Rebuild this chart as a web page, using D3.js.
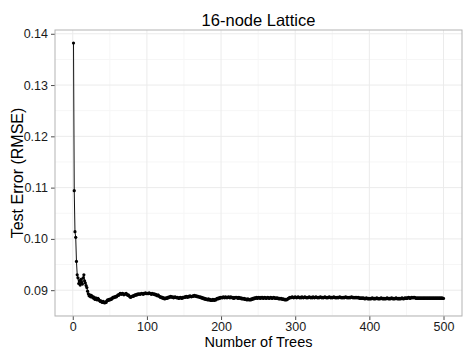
<!DOCTYPE html>
<html>
<head>
<meta charset="utf-8">
<script src="https://cdn.jsdelivr.net/npm/d3@7"></script>
<style>
  body { margin: 0; background: #fff; }
  text { font-family: "Liberation Sans", Arial, sans-serif; }
</style>
</head>
<body>
<svg id="chart" width="474" height="355"></svg>
<script>
// Test error (RMSE), one value per tree count (1..500)
const errorsFirst50 = [
  0.1382, 0.1094, 0.1014, 0.1003, 0.0956, 0.0930, 0.0924, 0.0913, 0.0918, 0.0910,
  0.0921, 0.0915, 0.0912, 0.0924, 0.0930, 0.0918, 0.0914, 0.0909, 0.0905, 0.0898,
  0.0893, 0.0889, 0.0891, 0.0887, 0.0890, 0.0888, 0.0885, 0.0887, 0.0884, 0.0882,
  0.0885, 0.0883, 0.0881, 0.0884, 0.0882, 0.0880, 0.0878, 0.0879, 0.0877, 0.0876,
  0.0878, 0.0876, 0.0875, 0.0877, 0.0876, 0.0879, 0.0881, 0.0880, 0.0882, 0.0881
];
const errors51to200 = [
  0.0883, 0.0882, 0.0884, 0.0886, 0.0885, 0.0887, 0.0886, 0.0888, 0.0887, 0.0889,
  0.0891, 0.0890, 0.0892, 0.0894, 0.0893, 0.0892, 0.0894, 0.0893, 0.0891, 0.0892,
  0.0893, 0.0894, 0.0892, 0.0890, 0.0891, 0.0889, 0.0887, 0.0886, 0.0887, 0.0888,
  0.0889, 0.0888, 0.0890, 0.0891, 0.0890, 0.0892, 0.0891, 0.0893, 0.0892, 0.0893,
  0.0892, 0.0893, 0.0894, 0.0893, 0.0892, 0.0894, 0.0893, 0.0895, 0.0894, 0.0893,
  0.0894, 0.0893, 0.0895, 0.0894, 0.0893, 0.0892, 0.0894, 0.0893, 0.0892, 0.0893,
  0.0891, 0.0892, 0.0890, 0.0889, 0.0891, 0.0889, 0.0888, 0.0886, 0.0887, 0.0885,
  0.0886, 0.0884, 0.0885, 0.0883, 0.0884, 0.0885, 0.0884, 0.0886, 0.0885, 0.0887,
  0.0886, 0.0888, 0.0887, 0.0886, 0.0887, 0.0885, 0.0886, 0.0887, 0.0886, 0.0885,
  0.0886, 0.0885, 0.0884, 0.0885, 0.0886, 0.0885, 0.0884, 0.0886, 0.0885, 0.0886,
  0.0887, 0.0886, 0.0888, 0.0887, 0.0886, 0.0888, 0.0887, 0.0889, 0.0888, 0.0887,
  0.0888, 0.0889, 0.0888, 0.0890, 0.0889, 0.0888, 0.0889, 0.0887, 0.0888, 0.0887,
  0.0886, 0.0887, 0.0885, 0.0886, 0.0884, 0.0885, 0.0883, 0.0884, 0.0882, 0.0883,
  0.0882, 0.0881, 0.0883, 0.0881, 0.0882, 0.0880, 0.0881, 0.0880, 0.0882, 0.0881,
  0.0880, 0.0882, 0.0881, 0.0883, 0.0884, 0.0883, 0.0885, 0.0884, 0.0886, 0.0885
];
const errors201to350 = [
  0.0886, 0.0885, 0.0887, 0.0886, 0.0885, 0.0887, 0.0886, 0.0885, 0.0886, 0.0887,
  0.0886, 0.0885, 0.0887, 0.0886, 0.0885, 0.0886, 0.0884, 0.0885, 0.0886, 0.0885,
  0.0886, 0.0885, 0.0884, 0.0886, 0.0885, 0.0884, 0.0885, 0.0883, 0.0884, 0.0883,
  0.0884, 0.0882, 0.0883, 0.0882, 0.0881, 0.0883, 0.0882, 0.0881, 0.0882, 0.0881,
  0.0883, 0.0882, 0.0884, 0.0883, 0.0885, 0.0884, 0.0885, 0.0886, 0.0884, 0.0885,
  0.0886, 0.0885, 0.0884, 0.0886, 0.0885, 0.0886, 0.0884, 0.0885, 0.0886, 0.0885,
  0.0884, 0.0885, 0.0886, 0.0885, 0.0884, 0.0885, 0.0886, 0.0885, 0.0884, 0.0885,
  0.0886, 0.0885, 0.0884, 0.0885, 0.0884, 0.0885, 0.0884, 0.0883, 0.0884, 0.0883,
  0.0884, 0.0883, 0.0882, 0.0883, 0.0882, 0.0881, 0.0882, 0.0881, 0.0882, 0.0883,
  0.0884, 0.0885, 0.0886, 0.0885, 0.0886, 0.0887, 0.0886, 0.0885, 0.0886, 0.0887,
  0.0886, 0.0885, 0.0886, 0.0887, 0.0886, 0.0885, 0.0886, 0.0885, 0.0887, 0.0886,
  0.0885, 0.0886, 0.0887, 0.0886, 0.0885, 0.0886, 0.0885, 0.0886, 0.0887, 0.0886,
  0.0885, 0.0886, 0.0885, 0.0887, 0.0886, 0.0885, 0.0886, 0.0887, 0.0886, 0.0885,
  0.0886, 0.0885, 0.0886, 0.0887, 0.0886, 0.0885, 0.0886, 0.0885, 0.0886, 0.0887,
  0.0886, 0.0885, 0.0886, 0.0885, 0.0886, 0.0887, 0.0886, 0.0885, 0.0886, 0.0885
];
const errors351to500 = [
  0.0886, 0.0887, 0.0886, 0.0885, 0.0886, 0.0885, 0.0886, 0.0885, 0.0886, 0.0887,
  0.0886, 0.0885, 0.0886, 0.0885, 0.0886, 0.0885, 0.0886, 0.0887, 0.0886, 0.0885,
  0.0886, 0.0885, 0.0886, 0.0885, 0.0886, 0.0887, 0.0886, 0.0885, 0.0886, 0.0885,
  0.0886, 0.0885, 0.0886, 0.0885, 0.0886, 0.0885, 0.0884, 0.0885, 0.0884, 0.0885,
  0.0884, 0.0885, 0.0884, 0.0883, 0.0884, 0.0885, 0.0884, 0.0883, 0.0884, 0.0883,
  0.0884, 0.0883, 0.0884, 0.0885, 0.0884, 0.0883, 0.0884, 0.0883, 0.0884, 0.0885,
  0.0884, 0.0883, 0.0884, 0.0883, 0.0884, 0.0885, 0.0884, 0.0883, 0.0884, 0.0883,
  0.0884, 0.0883, 0.0884, 0.0885, 0.0884, 0.0883, 0.0884, 0.0883, 0.0884, 0.0885,
  0.0884, 0.0883, 0.0884, 0.0883, 0.0884, 0.0885, 0.0884, 0.0883, 0.0884, 0.0883,
  0.0884, 0.0883, 0.0884, 0.0885, 0.0884, 0.0883, 0.0884, 0.0885, 0.0884, 0.0885,
  0.0884, 0.0885, 0.0886, 0.0885, 0.0884, 0.0885, 0.0886, 0.0885, 0.0886, 0.0885,
  0.0886, 0.0885, 0.0884, 0.0885, 0.0884, 0.0885, 0.0884, 0.0885, 0.0884, 0.0885,
  0.0884, 0.0885, 0.0884, 0.0885, 0.0884, 0.0885, 0.0884, 0.0885, 0.0884, 0.0885,
  0.0884, 0.0885, 0.0884, 0.0885, 0.0884, 0.0885, 0.0884, 0.0885, 0.0884, 0.0885,
  0.0884, 0.0885, 0.0884, 0.0885, 0.0884, 0.0885, 0.0884, 0.0885, 0.0884, 0.0884
];

const xTicks = [0, 100, 200, 300, 400, 500];
const xMinorTicks = [50, 150, 250, 350, 450];
const yTicks = [0.09, 0.10, 0.11, 0.12, 0.13, 0.14];
const yMinorTicks = [0.085, 0.095, 0.105, 0.115, 0.125, 0.135];

const errors = errorsFirst50.concat(errors51to200, errors201to350, errors351to500);
const data = errors.map((e, i) => ({ trees: i + 1, error: e }));

// Panel placement
const margin = { top: 30, right: 12, bottom: 39, left: 55 };
const width = 474 - margin.left - margin.right;
const height = 355 - margin.top - margin.bottom;

const svg = d3.select('#chart');
const g = svg.append('g').attr('transform', `translate(${margin.left},${margin.top})`);

// ggplot style 5% expansion
const xExt = d3.extent(data, d => d.trees);
const yExt = d3.extent(data, d => d.error);
const xPad = (xExt[1] - xExt[0]) * 0.05;
const yPad = (yExt[1] - yExt[0]) * 0.05;

const x = d3.scaleLinear().domain([xExt[0] - xPad, xExt[1] + xPad]).range([0, width]);
const y = d3.scaleLinear().domain([yExt[0] - yPad, yExt[1] + yPad]).range([height, 0]);

// Grid lines (minor then major)
g.append('g').selectAll('line')
  .data(xMinorTicks)
  .join('line')
  .attr('x1', d => x(d)).attr('x2', d => x(d))
  .attr('y1', 0).attr('y2', height)
  .attr('stroke', '#f6f6f6');

g.append('g').selectAll('line')
  .data(yMinorTicks)
  .join('line')
  .attr('x1', 0).attr('x2', width)
  .attr('y1', d => y(d)).attr('y2', d => y(d))
  .attr('stroke', '#f6f6f6');

g.append('g').selectAll('line')
  .data(xTicks)
  .join('line')
  .attr('x1', d => x(d)).attr('x2', d => x(d))
  .attr('y1', 0).attr('y2', height)
  .attr('stroke', '#ebebeb');

g.append('g').selectAll('line')
  .data(yTicks)
  .join('line')
  .attr('x1', 0).attr('x2', width)
  .attr('y1', d => y(d)).attr('y2', d => y(d))
  .attr('stroke', '#ebebeb');

// Axes
const xAxis = g.append('g')
  .attr('transform', `translate(0,${height})`)
  .call(d3.axisBottom(x).tickValues(xTicks).tickSize(4).tickPadding(2).tickFormat(d3.format('d')));

const yAxis = g.append('g')
  .call(d3.axisLeft(y).tickValues(yTicks).tickSize(4).tickPadding(3).tickFormat(d3.format('.2f')));

[xAxis, yAxis].forEach(a => {
  a.select('.domain').remove();
  a.selectAll('.tick line').attr('stroke', '#4d4d4d');
  a.selectAll('.tick text')
    .attr('fill', '#1a1a1a')
    .style('font-size', '12.5px');
});

// Panel border
g.append('rect')
  .attr('width', width)
  .attr('height', height)
  .attr('fill', 'none')
  .attr('stroke', '#b3b3b3')
  .attr('stroke-width', 1);

// Line and points
const line = d3.line()
  .x(d => x(d.trees))
  .y(d => y(d.error));

g.append('path')
  .datum(data)
  .attr('d', line)
  .attr('fill', 'none')
  .attr('stroke', '#111')
  .attr('stroke-width', 1);

g.append('g').selectAll('circle')
  .data(data)
  .join('circle')
  .attr('cx', d => x(d.trees))
  .attr('cy', d => y(d.error))
  .attr('r', 1.6)
  .attr('fill', '#000');

// Titles
svg.append('text')
  .text('16-node Lattice')
  .attr('x', margin.left + width / 2)
  .attr('y', 26)
  .attr('text-anchor', 'middle')
  .style('font-size', '16.5px')
  .attr('fill', '#000');

svg.append('text')
  .text('Number of Trees')
  .attr('x', margin.left + width / 2)
  .attr('y', 347)
  .attr('text-anchor', 'middle')
  .style('font-size', '14.5px')
  .attr('fill', '#000');

svg.append('text')
  .text('Test Error (RMSE)')
  .attr('transform', `translate(23,${margin.top + height / 2}) rotate(-90)`)
  .attr('text-anchor', 'middle')
  .style('font-size', '16px')
  .attr('fill', '#000');
</script>
</body>
</html>
